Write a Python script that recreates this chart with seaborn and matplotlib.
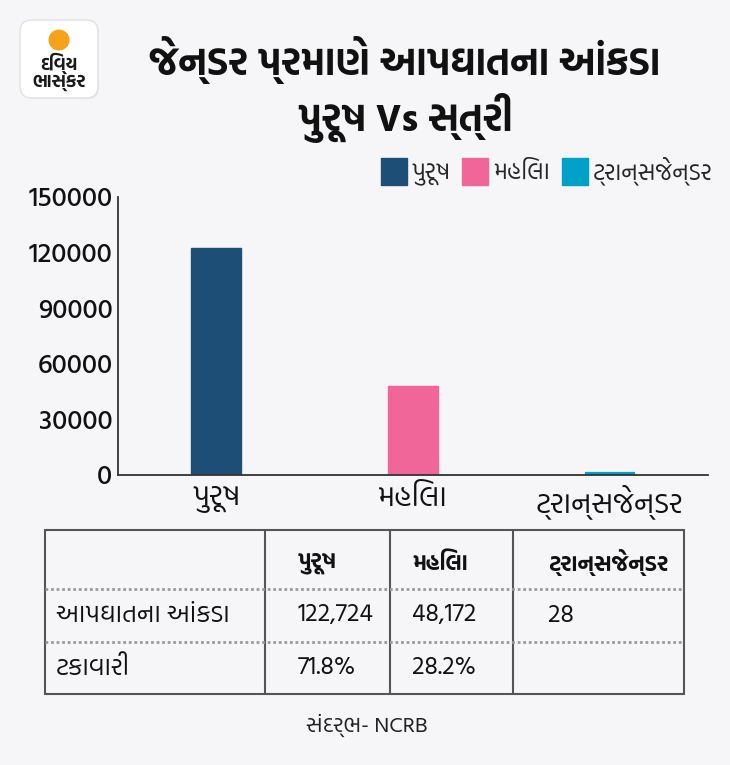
import matplotlib
matplotlib.use("Agg")
import matplotlib.pyplot as plt
import seaborn as sns
import pandas as pd
from matplotlib.patches import FancyBboxPatch, Ellipse, Patch, Rectangle
from matplotlib.lines import Line2D

# data
categories = ["પુરૂષ", "મહિલા", "ટ્રાન્સજેન્ડર"]
values = [122724, 48172, 28]
colors = ["#1d4e76", "#f06699", "#00a1c7"]
y_ticks = [0, 30000, 60000, 90000, 120000, 150000]
title_lines = ["જેન્ડર પ્રમાણે આપઘાતના આંકડા", "પુરૂષ Vs સ્ત્રી"]
table_header = ["પુરૂષ", "મહિલા", "ટ્રાન્સજેન્ડર"]
row_labels = ["આપઘાતના આંકડા", "ટકાવારી"]
counts_text = ["122,724", "48,172", "28"]
percent_text = ["71.8%", "28.2%", ""]
source = "સંદર્ભ- NCRB"
logo_lines = ["દિવ્ય", "ભાસ્કર"]

bg = "#f6f6f8"
W, H = 730, 765

sns.set_style("white")
plt.rcParams["font.family"] = ["Hind Vadodara", "DejaVu Sans"]


def fx(x):
    return x / W


def fy(y):
    return 1 - y / H


fig = plt.figure(figsize=(7.3, 7.65), dpi=100, facecolor=bg)

# bar chart
ax = fig.add_axes([fx(118), fy(475), 590 / W, 278 / H])
ax.set_facecolor(bg)
df = pd.DataFrame({"cat": categories, "val": values})
sns.barplot(data=df, x="cat", y="val", hue="cat", palette=colors, width=0.255,
            saturation=1, legend=False, ax=ax)
for p in ax.patches:
    p.set_edgecolor(p.get_facecolor())
    p.set_linewidth(1)
# the 28 bar is far below one pixel, give it a thick outline so it shows
ax.patches[2].set_linewidth(4.5)
ax.set_ylim(0, 150000)
ax.set_xlim(-0.5, 2.5)
ax.set_yticks(y_ticks)
ax.set_xlabel("")
ax.set_ylabel("")
for s in ["top", "right"]:
    ax.spines[s].set_visible(False)
for s in ["left", "bottom"]:
    ax.spines[s].set_color("#333333")
    ax.spines[s].set_linewidth(1.3)
    ax.spines[s].set_zorder(3)
ax.tick_params(axis="y", direction="in", length=7, labelsize=20, pad=4,
               color="#333333", labelcolor="#111111")
ax.tick_params(axis="x", which="major", length=0, labelsize=21, pad=7, labelcolor="#111111")
ax.set_xticks([0.5, 1.5, 2.5], minor=True)
ax.tick_params(axis="x", which="minor", direction="in", length=9, color="#333333")
for lab in ax.get_yticklabels():
    lab.set_fontweight("medium")

# legend
handles = [Patch(facecolor=c, edgecolor=c) for c in colors]
fig.legend(handles, categories, loc="center right", bbox_to_anchor=(fx(712), fy(171)),
           ncol=3, frameon=False, fontsize=17, handlelength=1.1, handleheight=1.35,
           handletextpad=0.2, columnspacing=0.5, borderaxespad=0, borderpad=0)

# title
fig.text(fx(405), fy(60), title_lines[0], ha="center", va="center", fontsize=28,
         fontweight="bold", color="#111111")
fig.text(fx(405), fy(118), title_lines[1], ha="center", va="center", fontsize=28,
         fontweight="bold", color="#111111")

# logo
fig.add_artist(FancyBboxPatch((fx(21), fy(99)), 78 / W, 78 / H, transform=fig.transFigure,
                              boxstyle="round,pad=0,rounding_size=0.016",
                              facecolor="#e4e4e6", edgecolor="none"))
fig.add_artist(FancyBboxPatch((fx(20), fy(98)), 78 / W, 78 / H, transform=fig.transFigure,
                              boxstyle="round,pad=0,rounding_size=0.016",
                              facecolor="white", edgecolor="#e2e2e2", lw=1))
fig.add_artist(Ellipse((fx(59), fy(40)), 21 / W, 21 / H, transform=fig.transFigure,
                       facecolor="#f7a21b", edgecolor="none"))
fig.text(fx(59), fy(63), logo_lines[0], ha="center", va="center", fontsize=13,
         fontweight="bold", color="#1a1a1a")
fig.text(fx(59), fy(83), logo_lines[1], ha="center", va="center", fontsize=13,
         fontweight="bold", color="#1a1a1a")

# table
col_x = [45, 265, 390, 513, 684]
row_y = [530, 589, 642, 694]
text_x = [298, 412, 548]
for x in col_x[1:-1]:
    fig.add_artist(Line2D([fx(x), fx(x)], [fy(row_y[0]), fy(row_y[-1])],
                          transform=fig.transFigure, color="#555555", lw=1.5))
for y in row_y[1:-1]:
    fig.add_artist(Line2D([fx(col_x[0]), fx(col_x[-1])], [fy(y), fy(y)],
                          transform=fig.transFigure, color="#9a9a9a", lw=2,
                          ls=(0, (1, 1))))
fig.add_artist(Rectangle((fx(col_x[0]), fy(row_y[-1])), (col_x[-1] - col_x[0]) / W,
                         (row_y[-1] - row_y[0]) / H, transform=fig.transFigure,
                         facecolor="none", edgecolor="#555555", lw=1.5))
for x, t in zip(text_x, table_header):
    fig.text(fx(x), fy(563), t, ha="left", va="center", fontsize=16,
             fontweight="bold", color="#111111")
fig.text(fx(56), fy(615), row_labels[0], ha="left", va="center", fontsize=18, color="#111111")
fig.text(fx(56), fy(668), row_labels[1], ha="left", va="center", fontsize=18, color="#111111")
for x, t in zip(text_x, counts_text):
    fig.text(fx(x), fy(615), t, ha="left", va="center", fontsize=18, color="#111111")
for x, t in zip(text_x, percent_text):
    if t:
        fig.text(fx(x), fy(668), t, ha="left", va="center", fontsize=18, color="#111111")

fig.text(fx(367), fy(725), source, ha="center", va="center", fontsize=16,
         style="italic", color="#222222")

fig.savefig("out.png", dpi=100, facecolor=bg)
